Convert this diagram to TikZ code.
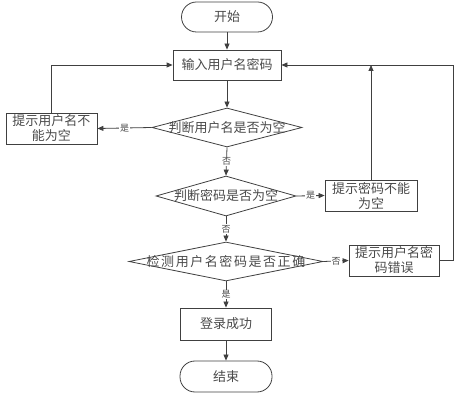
\documentclass[tikz,border=0pt]{standalone}
\usepackage{fontspec}
\newfontfamily\cjk{Noto Sans CJK SC}
\usetikzlibrary{shapes.geometric,arrows.meta}
\definecolor{linec}{HTML}{404040}
\definecolor{textc}{HTML}{4A4A4A}
\begin{document}
\begin{tikzpicture}[x=1pt,y=-1pt,
  ln/.style={draw=linec, line width=0.8pt},
  arr/.style={ln, -{Triangle[length=6pt,width=5pt]}},
  proc/.style={draw=linec, line width=0.8pt, inner sep=0pt, align=center,
    font=\cjk\fontsize{13}{15}\selectfont, text=textc},
  term/.style={proc, rounded corners=15pt},
  dec/.style={diamond, draw=linec, line width=0.8pt, inner sep=0pt},
  dtext/.style={inner sep=0pt, font=\cjk\fontsize{13}{15}\selectfont, text=textc},
  lbl/.style={fill=white, inner sep=1pt, font=\cjk\fontsize{9}{10}\selectfont, text=textc}]
\useasboundingbox (0,0) rectangle (474,403);
\node[term, minimum width=91pt, minimum height=30pt] (start) at (227,17) {开始};
\node[proc, minimum width=108pt, minimum height=30pt] (input) at (227,65) {输入用户名密码};
\node[dec, minimum width=150pt, minimum height=39pt] (d1) at (227,127.5) {};
\node[dtext] (d1t) at (d1) {判断用户名是否为空};
\node[proc, minimum width=91pt, minimum height=31pt] (b1) at (51.5,128.5) {提示用户名不\\能为空};
\node[dec, minimum width=140pt, minimum height=40pt] (d2) at (226,196) {};
\node[dtext] (d2t) at (d2) {判断密码是否为空};
\node[proc, minimum width=92pt, minimum height=31pt] (b2) at (371,195.5) {提示密码不能\\为空};
\node[dec, minimum width=194pt, minimum height=39pt] (d3) at (226,261.5) {};
\node[dtext] (d3t) at (d3) {\addfontfeature{LetterSpace=12}检测用户名密码是否正确};
\node[proc, minimum width=90pt, minimum height=31pt] (b3) at (394,260.5) {提示用户名密\\码错误};
\node[proc, minimum width=91pt, minimum height=32pt] (ok) at (226,324) {登录成功};
\node[term, minimum width=92pt, minimum height=31pt] (end) at (226,376.5) {结束};
\coordinate (rc) at (453,0);
\draw[arr] (start) -- (input);
\draw[arr] (input) -- (d1);
\draw[arr] (d1.west) -- node[lbl] {是} (b1.east);
\draw[arr] (b1.north) |- (input.west);
\draw[arr] (d1.south) -- node[lbl] {否} (d2.north);
\draw[arr] (d2.east) -- node[lbl] {是} (b2.west);
\draw[arr] (b2.north) -- (b2.north |- input.east);
\draw[arr] (d2.south) -- node[lbl] {否} (d3.north);
\draw[arr] (d3.east) -- node[lbl] {否} (b3.west);
\draw[arr] (b3.east) -- (b3.east -| rc) |- (input.east);
\draw[arr] (d3.south) -- node[lbl] {是} (ok.north);
\draw[arr] (ok) -- (end);
\end{tikzpicture}
\end{document}
